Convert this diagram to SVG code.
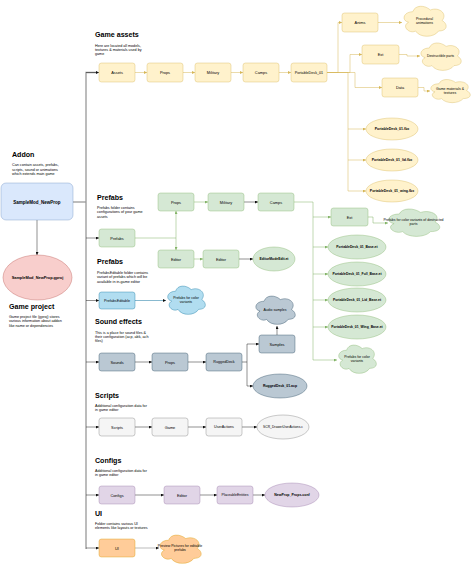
<svg xmlns="http://www.w3.org/2000/svg" width="474" height="568" viewBox="0 0 474 568">
<style>
text{font-family:"Liberation Sans",Arial,sans-serif;fill:#000}
.t{font-size:7.1px;font-weight:bold}
.d{font-size:3.7px}
.l{font-size:3.9px;text-anchor:middle;dominant-baseline:central}
.k{font-size:3.5px;text-anchor:middle}
.b{font-weight:bold}
rect,ellipse,use{stroke-width:0.55;stroke-opacity:0.7}
.y{fill:#fff2cc;stroke:#d6b656}
.g{fill:#d5e8d4;stroke:#82b366}
.c{fill:#b1ddf0;stroke:#10739e}
.s{fill:#bac8d3;stroke:#23445d}
.w{fill:#f5f5f5;stroke:#777}
.p{fill:#e1d5e7;stroke:#9673a6}
.o{fill:#ffcc99;stroke:#d79b00}
.bl{fill:#dae8fc;stroke:#6c8ebf}
.r{fill:#f8cecc;stroke:#b85450}
.e{fill:none;stroke-width:0.5}
.ey{stroke:#d6b656;marker-end:url(#ay)}
.eg{stroke:#82b366;marker-end:url(#ag)}
.ed{stroke:#222;marker-end:url(#ad)}
.em{stroke:#999;stroke-width:1.3;fill:none}
</style>
<defs>
<marker id="ad" viewBox="0 0 6 6" refX="6" refY="3" markerWidth="3" markerHeight="3" orient="auto" markerUnits="userSpaceOnUse"><path d="M0,0 L6,3 L0,6 Z" fill="#111"/></marker>
<marker id="ay" viewBox="0 0 6 6" refX="6" refY="3" markerWidth="3" markerHeight="3" orient="auto" markerUnits="userSpaceOnUse"><path d="M0,0 L6,3 L0,6 Z" fill="#d6b656"/></marker>
<marker id="ag" viewBox="0 0 6 6" refX="6" refY="3" markerWidth="3" markerHeight="3" orient="auto" markerUnits="userSpaceOnUse"><path d="M0,0 L6,3 L0,6 Z" fill="#82b366"/></marker>
<symbol id="cloud" viewBox="0 0 100 100" preserveAspectRatio="none"><path vector-effect="non-scaling-stroke" d="M25,25 C5,25 0,50 16,55 C0,66 18,90 31,80 C40,100 70,100 80,80 C100,80 100,60 87.5,50 C100,30 80,10 62.5,20 C50,5 30,5 25,25 Z"/></symbol>
</defs>

<g id="connectors">
<path class="em" d="M86,549 V72.5 H97"/>
<path class="em" d="M73,202 H86"/>
<path class="e ed" d="M86,72.5 H99"/>
<path class="e ed" d="M86,238 H99"/>
<path class="e ed" d="M86,300.5 H99"/>
<path class="e ed" d="M86,362 H99"/>
<path class="e ed" d="M86,427 H99"/>
<path class="e ed" d="M86,495 H99"/>
<path class="e ed" d="M86,548 H99"/>
<path class="e ed" d="M37,220 V255"/>
<path class="e ey" d="M135,72.5 H147"/>
<path class="e ey" d="M183,72.5 H195"/>
<path class="e ey" d="M231,72.5 H243"/>
<path class="e ey" d="M279,72.5 H291"/>
<path class="e ey" d="M327,72.5 H338 V22.5 H342"/>
<path class="e ey" d="M378,22.5 H402"/>
<path class="e ey" d="M327,72.5 H350 V54.5 H362"/>
<path class="e ey" d="M399,54.5 H407 V56 H420"/>
<path class="e ey" d="M327,72.5 H355 V87.5 H382"/>
<path class="e ey" d="M418,87.5 H424 V91 H430"/>
<path class="e ey" d="M327,72.5 H348 V129 H366"/>
<path class="e ey" d="M348,129 V160 H366"/>
<path class="e ey" d="M348,160 V191 H366"/>
<path class="e eg" d="M135,238 H176 V211"/>
<path class="e eg" d="M176,238 V250"/>
<path class="e eg" d="M194,202 H208"/>
<path class="e ed" d="M244,202 H258"/>
<path class="e eg" d="M194,259 H203"/>
<path class="e ed" d="M239,259 H253"/>
<path class="e eg" d="M294,202 H313 V217 H331"/>
<path class="e eg" d="M313,217 V247 H328"/>
<path class="e eg" d="M313,247 V274 H328"/>
<path class="e eg" d="M313,274 V300 H328"/>
<path class="e eg" d="M313,300 V327 H328"/>
<path class="e eg" d="M313,327 V360 H337"/>
<path class="e eg" d="M368,217 H373 V223 H388"/>
<path class="e" stroke="#10739e" marker-end="url(#ad)" d="M135,300.5 H166"/>
<path class="e ed" d="M135,362 H152"/>
<path class="e ed" d="M188,362 H206"/>
<path class="e ed" d="M242,362 H247 V344 H259"/>
<path class="e ed" d="M247,362 V386 H253"/>
<path class="e ed" d="M277,335 V326"/>
<path class="e ed" d="M135,427 H152"/>
<path class="e ed" d="M188,427 H206"/>
<path class="e ed" d="M242,427 H257"/>
<path class="e ed" d="M135,495 H164"/>
<path class="e ed" d="M200,495 H217"/>
<path class="e ed" d="M253,495 H265"/>
<path class="e" stroke="#777" marker-end="url(#ad)" d="M135,548 H159"/>
</g>

<g id="addon-text">
<text class="t" x="12" y="156.5">Addon</text>
<text class="d" x="12" y="166.3">Can contain assets, prefabs,</text>
<text class="d" x="12" y="170.6">scripts, sound or animations</text>
<text class="d" x="12" y="174.9">which extends main game</text>
</g>
<g id="addon"><rect class="bl" x="1" y="183" width="72" height="37" rx="5"/><text class="l b" x="37" y="202" style="font-size:4.5px">SampleMod_NewProp</text></g>
<g id="gproj"><ellipse class="r" cx="37.5" cy="277.5" rx="34.5" ry="22.5"/><text class="l b" x="37.5" y="277.5" style="font-size:3.9px">SampleMod_NewProp.gproj</text></g>
<g id="gproj-text">
<text class="t" x="9" y="308.5">Game project</text>
<text class="d" x="9" y="318">Game project file (gproj) stores</text>
<text class="d" x="9" y="322.3">various information about addon</text>
<text class="d" x="9" y="326.6">like name or dependencies</text>
</g>

<g id="assets-text">
<text class="t" x="95" y="37">Game assets</text>
<text class="d" x="95" y="46.5">Here are located all models,</text>
<text class="d" x="95" y="50.8">textures &amp; materials used by</text>
<text class="d" x="95" y="55">game</text>
</g>
<g id="ga-assets"><rect class="y" x="99" y="63" width="36" height="19" rx="2.5"/><text class="l" x="117" y="72.5">Assets</text></g>
<g id="ga-props"><rect class="y" x="147" y="63" width="36" height="19" rx="2.5"/><text class="l" x="165" y="72.5">Props</text></g>
<g id="ga-military"><rect class="y" x="195" y="63" width="36" height="19" rx="2.5"/><text class="l" x="213" y="72.5">Military</text></g>
<g id="ga-camps"><rect class="y" x="243" y="63" width="36" height="19" rx="2.5"/><text class="l" x="261" y="72.5">Camps</text></g>
<g id="ga-pd01"><rect class="y" x="291" y="63" width="36" height="19" rx="2.5"/><text class="l" x="309" y="72.5" style="font-size:3.7px">PortableDesk_01</text></g>
<g id="ga-anims"><rect class="y" x="342" y="13" width="36" height="19" rx="2.5"/><text class="l" x="360" y="22.5">Anims</text></g>
<g id="ga-anims-cloud"><use href="#cloud" class="y" x="401" y="3" width="47" height="35"/><text class="k" x="424.5"><tspan x="424.5" y="19.5">Procedural</tspan><tspan x="424.5" y="23.8">animations</tspan></text></g>
<g id="ga-ext"><rect class="y" x="362" y="45" width="37" height="19" rx="2.5"/><text class="l" x="380.5" y="54.5">Ext</text></g>
<g id="ga-ext-cloud"><use href="#cloud" class="y" x="418" y="40" width="45" height="32"/><text class="k" x="440.5" y="57.3">Destructible parts</text></g>
<g id="ga-data"><rect class="y" x="382" y="78" width="36" height="19" rx="2.5"/><text class="l" x="400" y="87.5">Data</text></g>
<g id="ga-data-cloud"><use href="#cloud" class="y" x="428" y="77" width="44" height="27"/><text class="k"><tspan x="450" y="89.5">Game materials &amp;</tspan><tspan x="450" y="93.8">textures</tspan></text></g>
<g id="ga-fbx1"><ellipse class="y" cx="392" cy="129" rx="26" ry="11"/><text class="l b" x="392" y="129" style="font-size:3.5px">PortableDesk_01.fbx</text></g>
<g id="ga-fbx2"><ellipse class="y" cx="392" cy="160" rx="26" ry="11"/><text class="l b" x="392" y="160" style="font-size:3.5px">PortableDesk_01_lid.fbx</text></g>
<g id="ga-fbx3"><ellipse class="y" cx="392" cy="191" rx="26" ry="11"/><text class="l b" x="392" y="191" style="font-size:3.5px">PortableDesk_01_wing.fbx</text></g>

<g id="prefabs-text">
<text class="t" x="97" y="199.5">Prefabs</text>
<text class="d" x="97" y="209">Prefabs folder contains</text>
<text class="d" x="97" y="213.3">configurations of your game</text>
<text class="d" x="97" y="217.5">assets</text>
</g>
<g id="pf-prefabs"><rect class="g" x="99" y="229" width="36" height="18" rx="2.5"/><text class="l" x="117" y="238">Prefabs</text></g>
<g id="pf-props"><rect class="g" x="158" y="193" width="36" height="18" rx="2.5"/><text class="l" x="176" y="202">Props</text></g>
<g id="pf-military"><rect class="g" x="208" y="193" width="36" height="18" rx="2.5"/><text class="l" x="226" y="202">Military</text></g>
<g id="pf-camps"><rect class="g" x="258" y="193" width="36" height="18" rx="2.5"/><text class="l" x="276" y="202">Camps</text></g>
<g id="pf-editor1"><rect class="g" x="158" y="250" width="36" height="18" rx="2.5"/><text class="l" x="176" y="259">Editor</text></g>
<g id="pf-editor2"><rect class="g" x="203" y="250" width="36" height="18" rx="2.5"/><text class="l" x="221" y="259">Editor</text></g>
<g id="pf-editmode"><ellipse class="g" cx="274" cy="259" rx="21" ry="12"/><text class="l b" x="274" y="259" style="font-size:3.4px">EditorModeEdit.et</text></g>
<g id="pf-ext"><rect class="g" x="331" y="208" width="37" height="18" rx="2.5"/><text class="l" x="349.5" y="217">Ext</text></g>
<g id="pf-ext-cloud"><use href="#cloud" class="g" x="385" y="206" width="57" height="32"/><text class="k"><tspan x="413.5" y="220.5">Prefabs for color variants of destructed</tspan><tspan x="413.5" y="224.8">parts</tspan></text></g>
<g id="pf-base"><ellipse class="g" cx="357" cy="247" rx="29" ry="12"/><text class="l b" x="357" y="247" style="font-size:3.4px">PortableDesk_01_Base.et</text></g>
<g id="pf-fullbase"><ellipse class="g" cx="357" cy="274" rx="29" ry="12"/><text class="l b" x="357" y="274" style="font-size:3.4px">PortableDesk_01_Full_Base.et</text></g>
<g id="pf-lidbase"><ellipse class="g" cx="357" cy="300" rx="29" ry="12"/><text class="l b" x="357" y="300" style="font-size:3.4px">PortableDesk_01_Lid_Base.et</text></g>
<g id="pf-wingbase"><ellipse class="g" cx="357" cy="327" rx="29" ry="12"/><text class="l b" x="357" y="327" style="font-size:3.4px">PortableDesk_01_Wing_Base.et</text></g>
<g id="pf-variants"><use href="#cloud" class="g" x="336" y="342" width="42" height="33"/><text class="k"><tspan x="357" y="357.5">Prefabs for color</tspan><tspan x="357" y="361.8">variants</tspan></text></g>

<g id="prefabs2-text">
<text class="t" x="97" y="264">Prefabs</text>
<text class="d" x="97" y="274">PrefabsEditable folder contains</text>
<text class="d" x="97" y="278.3">variant of prefabs which will be</text>
<text class="d" x="97" y="282.5">available in in-game editor</text>
</g>
<g id="pe-node"><rect class="c" x="99" y="292" width="36" height="17" rx="2.5"/><text class="l" x="117" y="300.5" style="font-size:3.7px">PrefabsEditable</text></g>
<g id="pe-cloud"><use href="#cloud" class="c" x="165" y="283" width="42" height="33"/><text class="k"><tspan x="186" y="299">Prefabs for color</tspan><tspan x="186" y="303.3">variants</tspan></text></g>

<g id="sound-text">
<text class="t" x="95" y="323.5">Sound effects</text>
<text class="d" x="95" y="333.6">This is a place for sound files &amp;</text>
<text class="d" x="95" y="337.9">their configuration (acp, abk, ach</text>
<text class="d" x="95" y="342.2">files)</text>
</g>
<g id="sn-sounds"><rect class="s" x="99" y="353" width="36" height="18" rx="2.5"/><text class="l" x="117" y="362">Sounds</text></g>
<g id="sn-props"><rect class="s" x="152" y="353" width="36" height="18" rx="2.5"/><text class="l" x="170" y="362">Props</text></g>
<g id="sn-rugged"><rect class="s" x="206" y="353" width="36" height="18" rx="2.5"/><text class="l" x="224" y="362" style="font-size:3.7px">RuggedDeck</text></g>
<g id="sn-samples"><rect class="s" x="259" y="335" width="36" height="18" rx="2.5"/><text class="l" x="277" y="344">Samples</text></g>
<g id="sn-cloud"><use href="#cloud" class="s" x="253" y="293" width="44" height="33"/><text class="k" x="275" y="311">Audio samples</text></g>
<g id="sn-acp"><ellipse class="s" cx="280" cy="386" rx="27" ry="12"/><text class="l b" x="280" y="386" style="font-size:3.5px">RuggedDeck_01.acp</text></g>

<g id="scripts-text">
<text class="t" x="95" y="397.5">Scripts</text>
<text class="d" x="95" y="407">Additional configuration data for</text>
<text class="d" x="95" y="411.3">in game editor</text>
</g>
<g id="sc-scripts"><rect class="w" x="99" y="418" width="36" height="18" rx="2.5"/><text class="l" x="117" y="427">Scripts</text></g>
<g id="sc-game"><rect class="w" x="152" y="418" width="36" height="18" rx="2.5"/><text class="l" x="170" y="427">Game</text></g>
<g id="sc-useractions"><rect class="w" x="206" y="418" width="36" height="18" rx="2.5"/><text class="l" x="224" y="427" style="font-size:3.7px">UserActions</text></g>
<g id="sc-file"><ellipse class="w" cx="283" cy="427" rx="26" ry="12"/><text class="l" x="283" y="427" style="font-size:3.3px">SCR_DrawerUserActions.c</text></g>

<g id="configs-text">
<text class="t" x="95" y="462.5">Configs</text>
<text class="d" x="95" y="471.5">Additional configuration data for</text>
<text class="d" x="95" y="475.8">in game editor</text>
</g>
<g id="cf-configs"><rect class="p" x="99" y="486" width="36" height="18" rx="2.5"/><text class="l" x="117" y="495">Configs</text></g>
<g id="cf-editor"><rect class="p" x="164" y="486" width="36" height="18" rx="2.5"/><text class="l" x="182" y="495">Editor</text></g>
<g id="cf-placeable"><rect class="p" x="217" y="486" width="36" height="18" rx="2.5"/><text class="l" x="235" y="495" style="font-size:3.5px">PlaceableEntities</text></g>
<g id="cf-conf"><ellipse class="p" cx="292" cy="495" rx="27" ry="12"/><text class="l b" x="292" y="495" style="font-size:3.5px">NewProp_Props.conf</text></g>

<g id="ui-text">
<text class="t" x="95" y="515.8">UI</text>
<text class="d" x="95" y="524.6">Folder contains  various UI</text>
<text class="d" x="95" y="529">elements like layouts or textures</text>
</g>
<g id="ui-node"><rect class="o" x="99" y="539" width="36" height="18" rx="2.5"/><text class="l" x="117" y="548">UI</text></g>
<g id="ui-cloud"><use href="#cloud" class="o" x="157" y="532" width="46" height="33"/><text class="k"><tspan x="180" y="546.5">Preview Pictures for editable</tspan><tspan x="180" y="550.8">prefabs</tspan></text></g>
</svg>
